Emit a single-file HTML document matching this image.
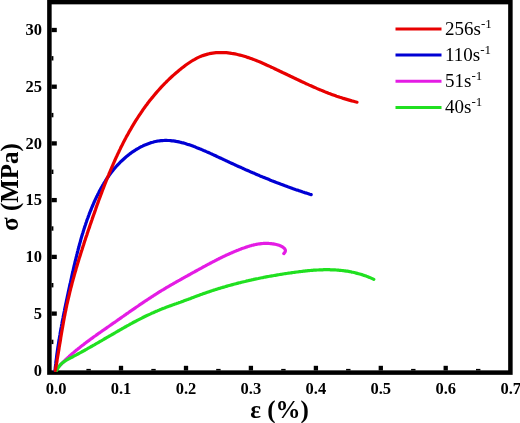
<!DOCTYPE html>
<html><head><meta charset="utf-8"><style>
html,body{margin:0;padding:0;background:#fff;}
body{width:520px;height:423px;overflow:hidden;}
svg{display:block;}
.tk text{font-family:"Liberation Serif",serif;font-weight:bold;font-size:16.5px;fill:#000;}
.lg text{font-family:"Liberation Serif",serif;font-size:19px;fill:#000;}
.ax{font-family:"Liberation Serif",serif;font-weight:bold;font-size:25px;fill:#000;}
.ticks line{stroke:#000;stroke-width:4.3;}
.ticks line.mn{stroke-width:4.4;}
.c{fill:none;stroke-width:3.2;stroke-linecap:round;stroke-linejoin:round;}
</style></head><body>
<svg width="520" height="423" viewBox="0 0 520 423">
<rect x="0" y="0" width="520" height="423" fill="#fff"/>
<g class="ticks"><line x1="56.1" y1="370.5" x2="56.1" y2="365.8"/><line x1="121.0" y1="370.5" x2="121.0" y2="365.8"/><line x1="186.0" y1="370.5" x2="186.0" y2="365.8"/><line x1="250.9" y1="370.5" x2="250.9" y2="365.8"/><line x1="315.9" y1="370.5" x2="315.9" y2="365.8"/><line x1="380.8" y1="370.5" x2="380.8" y2="365.8"/><line x1="445.7" y1="370.5" x2="445.7" y2="365.8"/><line class="mn" x1="88.6" y1="370.5" x2="88.6" y2="368.9"/><line class="mn" x1="153.5" y1="370.5" x2="153.5" y2="368.9"/><line class="mn" x1="218.4" y1="370.5" x2="218.4" y2="368.9"/><line class="mn" x1="283.4" y1="370.5" x2="283.4" y2="368.9"/><line class="mn" x1="348.3" y1="370.5" x2="348.3" y2="368.9"/><line class="mn" x1="413.3" y1="370.5" x2="413.3" y2="368.9"/><line class="mn" x1="478.2" y1="370.5" x2="478.2" y2="368.9"/><line x1="51.5" y1="313.6" x2="56.8" y2="313.6"/><line x1="51.5" y1="256.9" x2="56.8" y2="256.9"/><line x1="51.5" y1="200.1" x2="56.8" y2="200.1"/><line x1="51.5" y1="143.4" x2="56.8" y2="143.4"/><line x1="51.5" y1="86.7" x2="56.8" y2="86.7"/><line x1="51.5" y1="30.0" x2="56.8" y2="30.0"/><line class="mn" x1="51.5" y1="341.9" x2="53.4" y2="341.9"/><line class="mn" x1="51.5" y1="285.2" x2="53.4" y2="285.2"/><line class="mn" x1="51.5" y1="228.5" x2="53.4" y2="228.5"/><line class="mn" x1="51.5" y1="171.8" x2="53.4" y2="171.8"/><line class="mn" x1="51.5" y1="115.1" x2="53.4" y2="115.1"/><line class="mn" x1="51.5" y1="58.3" x2="53.4" y2="58.3"/><line class="mn" x1="51.5" y1="1.6" x2="53.4" y2="1.6"/></g>
<rect x="49.4" y="2.1" width="461" height="370.5" fill="none" stroke="#000" stroke-width="4.5"/>
<path class="c" stroke="#0000d4" d="M55.0 370.5 L55.2 369.1 L55.3 367.7 L55.5 366.3 L55.6 364.9 L55.8 363.4 L55.9 362.0 L56.1 360.6 L56.3 359.2 L56.5 357.8 L56.6 356.4 L56.8 355.0 L57.0 353.6 L57.2 352.1 L57.4 350.7 L57.6 349.3 L57.8 347.9 L58.0 346.5 L58.3 345.1 L58.5 343.6 L58.7 342.2 L58.9 340.8 L59.2 339.4 L59.4 338.0 L59.6 336.5 L59.9 335.1 L60.1 333.7 L60.3 332.3 L60.6 330.9 L60.8 329.4 L61.1 328.0 L61.4 326.6 L61.6 325.2 L61.9 323.8 L62.1 322.3 L62.4 320.9 L62.7 319.5 L63.0 318.1 L63.2 316.7 L63.5 315.2 L63.8 313.8 L64.1 312.4 L64.4 311.0 L64.6 309.6 L64.9 308.2 L65.2 306.7 L65.5 305.3 L65.8 303.9 L66.1 302.5 L66.4 301.1 L66.7 299.7 L67.0 298.2 L67.3 296.8 L67.6 295.4 L67.9 294.0 L68.2 292.6 L68.5 291.2 L68.8 289.8 L69.1 288.4 L69.4 287.0 L69.7 285.5 L70.0 284.1 L70.4 282.7 L70.7 281.3 L71.0 279.9 L71.3 278.5 L71.6 277.1 L71.9 275.7 L72.2 274.3 L72.5 272.9 L72.9 271.5 L73.2 270.1 L73.5 268.7 L73.8 267.3 L74.1 265.9 L74.5 264.5 L74.8 263.1 L75.1 261.7 L75.5 260.3 L75.8 259.0 L76.1 257.6 L76.5 256.2 L76.8 254.8 L77.2 253.4 L77.5 252.0 L77.9 250.6 L78.2 249.3 L78.6 247.9 L79.0 246.5 L79.3 245.1 L79.7 243.7 L80.1 242.4 L80.5 241.0 L80.8 239.6 L81.2 238.3 L81.6 236.9 L82.0 235.5 L82.4 234.2 L82.9 232.8 L83.3 231.4 L83.7 230.1 L84.1 228.7 L84.6 227.4 L85.0 226.0 L85.5 224.7 L85.9 223.3 L86.4 222.0 L86.8 220.6 L87.3 219.3 L87.8 218.0 L88.3 216.6 L88.8 215.3 L89.3 213.9 L89.8 212.6 L90.3 211.3 L90.9 210.0 L91.4 208.6 L91.9 207.3 L92.5 206.0 L93.1 204.7 L93.6 203.3 L94.2 202.0 L94.8 200.7 L95.4 199.4 L96.0 198.1 L96.6 196.8 L97.3 195.5 L97.9 194.2 L98.6 192.9 L99.2 191.6 L99.9 190.4 L100.6 189.1 L101.3 187.8 L102.0 186.6 L102.7 185.3 L103.5 184.1 L104.2 182.8 L105.0 181.6 L105.7 180.4 L106.5 179.2 L107.3 178.0 L108.2 176.8 L109.0 175.6 L109.8 174.4 L110.7 173.3 L111.6 172.1 L112.5 171.0 L113.4 169.8 L114.3 168.7 L115.3 167.6 L116.2 166.5 L117.2 165.4 L118.2 164.3 L119.2 163.3 L120.3 162.2 L121.3 161.2 L122.4 160.2 L123.5 159.2 L124.6 158.2 L125.7 157.2 L126.8 156.3 L127.9 155.4 L129.1 154.5 L130.2 153.6 L131.4 152.7 L132.6 151.9 L133.8 151.1 L135.0 150.3 L136.2 149.5 L137.4 148.8 L138.7 148.1 L139.9 147.4 L141.2 146.7 L142.5 146.1 L143.7 145.5 L145.0 144.9 L146.3 144.4 L147.6 143.9 L148.9 143.4 L150.3 142.9 L151.6 142.5 L152.9 142.2 L154.2 141.8 L155.6 141.5 L156.9 141.2 L158.3 141.0 L159.6 140.8 L161.0 140.7 L162.4 140.6 L163.7 140.5 L165.1 140.4 L166.5 140.4 L167.8 140.5 L169.2 140.5 L170.6 140.6 L172.0 140.8 L173.4 140.9 L174.8 141.1 L176.2 141.4 L177.5 141.6 L178.9 141.9 L180.3 142.2 L181.7 142.6 L183.1 142.9 L184.5 143.3 L185.9 143.7 L187.2 144.2 L188.6 144.6 L190.0 145.1 L191.4 145.6 L192.8 146.1 L194.1 146.6 L195.5 147.1 L196.9 147.7 L198.2 148.2 L199.6 148.8 L200.9 149.3 L202.3 149.9 L203.6 150.5 L205.0 151.0 L206.3 151.6 L207.7 152.2 L209.0 152.8 L210.3 153.4 L211.7 154.0 L213.0 154.6 L214.3 155.2 L215.6 155.8 L217.0 156.5 L218.3 157.1 L219.6 157.7 L220.9 158.3 L222.2 158.9 L223.5 159.5 L224.9 160.1 L226.2 160.8 L227.5 161.4 L228.8 162.0 L230.1 162.6 L231.4 163.2 L232.7 163.8 L234.0 164.4 L235.3 165.0 L236.6 165.6 L237.9 166.2 L239.2 166.8 L240.5 167.3 L241.8 167.9 L243.1 168.5 L244.4 169.1 L245.7 169.7 L247.0 170.2 L248.3 170.8 L249.6 171.4 L250.9 172.0 L252.2 172.5 L253.5 173.1 L254.8 173.6 L256.1 174.2 L257.4 174.8 L258.7 175.3 L260.0 175.9 L261.3 176.4 L262.7 177.0 L264.0 177.5 L265.3 178.0 L266.6 178.6 L267.9 179.1 L269.2 179.6 L270.5 180.2 L271.8 180.7 L273.2 181.2 L274.5 181.7 L275.8 182.3 L277.1 182.8 L278.5 183.3 L279.8 183.8 L281.1 184.3 L282.5 184.8 L283.8 185.3 L285.1 185.8 L286.5 186.3 L287.8 186.8 L289.2 187.3 L290.5 187.7 L291.9 188.2 L293.2 188.7 L294.6 189.2 L296.0 189.7 L297.3 190.1 L298.7 190.6 L300.1 191.0 L301.5 191.5 L302.8 192.0 L304.2 192.4 L305.6 192.9 L307.0 193.3 L308.4 193.7 L309.8 194.2 L311.2 194.6"/>
<path class="c" stroke="#e41ce4" d="M56.5 369.2 L57.1 368.5 L57.7 367.8 L58.3 367.1 L58.9 366.5 L59.6 365.8 L60.2 365.1 L60.8 364.5 L61.5 363.8 L62.1 363.2 L62.8 362.5 L63.4 361.9 L64.1 361.2 L64.7 360.6 L65.4 360.0 L66.0 359.3 L66.7 358.7 L67.3 358.1 L68.0 357.5 L68.7 356.9 L69.4 356.2 L70.0 355.6 L70.7 355.0 L71.4 354.4 L72.1 353.8 L72.8 353.2 L73.5 352.7 L74.1 352.1 L74.8 351.5 L75.5 350.9 L76.2 350.3 L76.9 349.7 L77.6 349.2 L78.3 348.6 L79.1 348.0 L79.8 347.5 L80.5 346.9 L81.2 346.3 L81.9 345.8 L82.6 345.2 L83.3 344.7 L84.1 344.1 L84.8 343.5 L85.5 343.0 L86.2 342.4 L87.0 341.9 L87.7 341.4 L88.4 340.8 L89.2 340.3 L89.9 339.7 L90.6 339.2 L91.4 338.7 L92.1 338.1 L92.8 337.6 L93.6 337.0 L94.3 336.5 L95.1 336.0 L95.8 335.5 L96.6 334.9 L97.3 334.4 L98.1 333.9 L98.8 333.3 L99.5 332.8 L100.3 332.3 L101.0 331.8 L101.8 331.2 L102.5 330.7 L103.3 330.2 L104.0 329.7 L104.8 329.1 L105.6 328.6 L106.3 328.1 L107.1 327.6 L107.8 327.0 L108.6 326.5 L109.3 326.0 L110.1 325.5 L110.8 324.9 L111.6 324.4 L112.3 323.9 L113.1 323.4 L113.8 322.8 L114.6 322.3 L115.4 321.8 L116.1 321.3 L116.9 320.7 L117.6 320.2 L118.4 319.7 L119.1 319.1 L119.9 318.6 L120.6 318.1 L121.4 317.6 L122.1 317.0 L122.9 316.5 L123.7 316.0 L124.4 315.4 L125.2 314.9 L125.9 314.4 L126.7 313.8 L127.4 313.3 L128.2 312.8 L128.9 312.3 L129.7 311.7 L130.5 311.2 L131.2 310.7 L132.0 310.2 L132.7 309.6 L133.5 309.1 L134.2 308.6 L135.0 308.1 L135.8 307.5 L136.5 307.0 L137.3 306.5 L138.0 306.0 L138.8 305.5 L139.5 304.9 L140.3 304.4 L141.1 303.9 L141.8 303.4 L142.6 302.9 L143.3 302.4 L144.1 301.9 L144.9 301.3 L145.6 300.8 L146.4 300.3 L147.2 299.8 L147.9 299.3 L148.7 298.8 L149.4 298.3 L150.2 297.8 L151.0 297.3 L151.7 296.8 L152.5 296.3 L153.3 295.8 L154.0 295.3 L154.8 294.8 L155.6 294.3 L156.3 293.9 L157.1 293.4 L157.9 292.9 L158.6 292.4 L159.4 291.9 L160.2 291.4 L161.0 291.0 L161.7 290.5 L162.5 290.0 L163.3 289.6 L164.1 289.1 L164.8 288.6 L165.6 288.2 L166.4 287.7 L167.2 287.2 L167.9 286.8 L168.7 286.3 L169.5 285.9 L170.3 285.4 L171.0 285.0 L171.8 284.5 L172.6 284.1 L173.4 283.6 L174.2 283.2 L175.0 282.7 L175.7 282.3 L176.5 281.8 L177.3 281.4 L178.1 281.0 L178.9 280.5 L179.7 280.1 L180.5 279.6 L181.3 279.2 L182.0 278.7 L182.8 278.3 L183.6 277.9 L184.4 277.4 L185.2 277.0 L186.0 276.5 L186.8 276.1 L187.6 275.7 L188.4 275.2 L189.2 274.8 L190.0 274.3 L190.8 273.9 L191.6 273.4 L192.4 273.0 L193.2 272.5 L194.0 272.1 L194.8 271.7 L195.6 271.2 L196.4 270.8 L197.2 270.3 L198.1 269.9 L198.9 269.4 L199.7 269.0 L200.5 268.5 L201.3 268.1 L202.1 267.6 L202.9 267.2 L203.7 266.7 L204.6 266.3 L205.4 265.9 L206.2 265.4 L207.0 265.0 L207.8 264.5 L208.6 264.1 L209.5 263.7 L210.3 263.2 L211.1 262.8 L211.9 262.4 L212.8 261.9 L213.6 261.5 L214.4 261.1 L215.2 260.6 L216.1 260.2 L216.9 259.8 L217.7 259.4 L218.5 259.0 L219.4 258.5 L220.2 258.1 L221.0 257.7 L221.9 257.3 L222.7 256.9 L223.5 256.5 L224.3 256.1 L225.2 255.7 L226.0 255.3 L226.8 254.9 L227.7 254.6 L228.5 254.2 L229.4 253.8 L230.2 253.4 L231.0 253.1 L231.9 252.7 L232.7 252.3 L233.5 252.0 L234.4 251.6 L235.2 251.3 L236.1 250.9 L236.9 250.6 L237.7 250.2 L238.6 249.9 L239.4 249.6 L240.3 249.3 L241.1 248.9 L241.9 248.6 L242.8 248.3 L243.6 248.0 L244.5 247.7 L245.3 247.4 L246.2 247.1 L247.0 246.9 L247.9 246.6 L248.7 246.3 L249.6 246.1 L250.4 245.8 L251.3 245.6 L252.1 245.3 L253.0 245.1 L253.8 244.9 L254.7 244.7 L255.6 244.5 L256.5 244.3 L257.3 244.2 L258.2 244.0 L259.1 243.9 L260.0 243.8 L260.9 243.7 L261.8 243.6 L262.7 243.5 L263.6 243.4 L264.6 243.4 L265.5 243.4 L266.5 243.4 L267.4 243.4 L268.4 243.4 L269.3 243.5 L270.3 243.6 L271.3 243.7 L272.3 243.8 L273.3 243.9 L274.3 244.1 L275.3 244.3 L276.2 244.5 L277.2 244.7 L278.1 245.0 L279.0 245.3 L279.9 245.6 L280.7 246.0 L281.5 246.4 L282.3 246.8 L282.9 247.2 L283.6 247.7 L284.2 248.2 L284.7 248.8 L285.0 249.4 L285.3 250.0 L285.4 250.6 L285.3 251.3 L285.0 252.0 L284.5 252.8 L283.8 253.6"/>
<path class="c" stroke="#20e020" d="M56.8 370.3 L57.3 369.2 L57.9 368.2 L58.5 367.2 L59.2 366.3 L59.9 365.4 L60.6 364.6 L61.4 363.8 L62.3 363.1 L63.1 362.4 L64.0 361.7 L65.0 361.1 L65.9 360.5 L66.9 359.9 L67.8 359.4 L68.8 358.8 L69.8 358.3 L70.8 357.7 L71.9 357.2 L72.9 356.7 L73.9 356.1 L74.9 355.6 L75.9 355.1 L76.9 354.5 L77.9 354.0 L78.9 353.5 L79.9 352.9 L80.9 352.4 L81.9 351.8 L82.9 351.3 L83.9 350.7 L84.9 350.2 L85.8 349.6 L86.8 349.1 L87.8 348.5 L88.8 347.9 L89.8 347.4 L90.8 346.8 L91.8 346.3 L92.8 345.7 L93.8 345.1 L94.8 344.6 L95.7 344.0 L96.7 343.4 L97.7 342.9 L98.7 342.3 L99.7 341.7 L100.7 341.1 L101.7 340.6 L102.7 340.0 L103.7 339.4 L104.6 338.8 L105.6 338.3 L106.6 337.7 L107.6 337.1 L108.6 336.5 L109.6 336.0 L110.6 335.4 L111.6 334.8 L112.6 334.2 L113.6 333.7 L114.6 333.1 L115.6 332.5 L116.6 331.9 L117.6 331.3 L118.6 330.8 L119.6 330.2 L120.6 329.6 L121.6 329.0 L122.6 328.5 L123.6 327.9 L124.6 327.3 L125.6 326.8 L126.6 326.2 L127.6 325.6 L128.6 325.1 L129.6 324.5 L130.7 323.9 L131.7 323.4 L132.7 322.8 L133.7 322.3 L134.7 321.8 L135.7 321.2 L136.7 320.7 L137.8 320.1 L138.8 319.6 L139.8 319.1 L140.8 318.6 L141.8 318.1 L142.9 317.5 L143.9 317.0 L144.9 316.5 L145.9 316.0 L147.0 315.5 L148.0 315.1 L149.0 314.6 L150.1 314.1 L151.1 313.6 L152.1 313.1 L153.2 312.7 L154.2 312.2 L155.2 311.8 L156.3 311.3 L157.3 310.9 L158.3 310.4 L159.4 310.0 L160.4 309.6 L161.5 309.1 L162.5 308.7 L163.5 308.3 L164.6 307.9 L165.6 307.5 L166.7 307.1 L167.7 306.7 L168.8 306.3 L169.8 305.9 L170.9 305.6 L171.9 305.2 L173.0 304.8 L174.0 304.4 L175.1 304.0 L176.2 303.7 L177.2 303.3 L178.3 302.9 L179.3 302.5 L180.4 302.2 L181.5 301.8 L182.5 301.4 L183.6 301.0 L184.6 300.6 L185.7 300.2 L186.8 299.8 L187.9 299.5 L188.9 299.1 L190.0 298.7 L191.1 298.2 L192.1 297.8 L193.2 297.4 L194.3 297.0 L195.4 296.6 L196.4 296.2 L197.5 295.8 L198.6 295.4 L199.7 295.0 L200.8 294.6 L201.9 294.2 L202.9 293.8 L204.0 293.4 L205.1 293.1 L206.2 292.7 L207.3 292.3 L208.4 291.9 L209.5 291.6 L210.6 291.2 L211.7 290.8 L212.8 290.5 L213.8 290.1 L214.9 289.8 L216.0 289.4 L217.1 289.1 L218.2 288.7 L219.3 288.4 L220.4 288.1 L221.5 287.7 L222.7 287.4 L223.8 287.1 L224.9 286.8 L226.0 286.4 L227.1 286.1 L228.2 285.8 L229.3 285.5 L230.4 285.2 L231.5 284.9 L232.6 284.6 L233.7 284.3 L234.8 284.0 L236.0 283.7 L237.1 283.4 L238.2 283.1 L239.3 282.8 L240.4 282.6 L241.5 282.3 L242.6 282.0 L243.8 281.7 L244.9 281.5 L246.0 281.2 L247.1 280.9 L248.2 280.7 L249.4 280.4 L250.5 280.2 L251.6 279.9 L252.7 279.7 L253.8 279.4 L255.0 279.2 L256.1 278.9 L257.2 278.7 L258.3 278.5 L259.5 278.2 L260.6 278.0 L261.7 277.8 L262.8 277.6 L264.0 277.3 L265.1 277.1 L266.2 276.9 L267.4 276.7 L268.5 276.5 L269.6 276.3 L270.7 276.1 L271.9 275.9 L273.0 275.7 L274.1 275.5 L275.3 275.3 L276.4 275.1 L277.5 274.9 L278.6 274.7 L279.8 274.5 L280.9 274.3 L282.0 274.2 L283.2 274.0 L284.3 273.8 L285.4 273.6 L286.6 273.5 L287.7 273.3 L288.8 273.1 L289.9 273.0 L291.1 272.8 L292.2 272.6 L293.3 272.5 L294.5 272.3 L295.6 272.2 L296.7 272.0 L297.9 271.9 L299.0 271.7 L300.1 271.6 L301.3 271.5 L302.4 271.3 L303.5 271.2 L304.6 271.1 L305.8 270.9 L306.9 270.8 L308.0 270.7 L309.2 270.6 L310.3 270.5 L311.4 270.4 L312.6 270.3 L313.7 270.2 L314.8 270.2 L315.9 270.1 L317.1 270.0 L318.2 270.0 L319.3 269.9 L320.4 269.8 L321.6 269.8 L322.7 269.8 L323.8 269.7 L325.0 269.7 L326.1 269.7 L327.2 269.7 L328.3 269.7 L329.4 269.7 L330.6 269.8 L331.7 269.8 L332.8 269.8 L333.9 269.9 L335.1 269.9 L336.2 270.0 L337.3 270.1 L338.4 270.2 L339.5 270.3 L340.7 270.4 L341.8 270.5 L342.9 270.6 L344.0 270.8 L345.1 270.9 L346.2 271.1 L347.3 271.2 L348.5 271.4 L349.6 271.6 L350.7 271.8 L351.8 272.1 L352.9 272.3 L354.0 272.5 L355.1 272.8 L356.2 273.1 L357.3 273.4 L358.5 273.7 L359.6 274.0 L360.7 274.3 L361.8 274.6 L362.9 275.0 L364.0 275.4 L365.1 275.7 L366.2 276.1 L367.3 276.6 L368.4 277.0 L369.5 277.4 L370.6 277.9 L371.7 278.4 L372.8 278.9 L373.8 279.4"/>
<path class="c" stroke="#e80000" d="M55.3 370.5 L55.6 368.8 L55.9 367.0 L56.2 365.2 L56.6 363.5 L56.9 361.7 L57.1 360.0 L57.4 358.2 L57.7 356.5 L58.0 354.7 L58.3 353.0 L58.6 351.3 L58.9 349.5 L59.1 347.8 L59.4 346.1 L59.7 344.3 L60.0 342.6 L60.3 340.9 L60.6 339.1 L60.8 337.4 L61.1 335.7 L61.4 334.0 L61.7 332.3 L62.0 330.5 L62.3 328.8 L62.6 327.1 L62.9 325.4 L63.2 323.7 L63.5 322.0 L63.8 320.3 L64.1 318.6 L64.4 316.9 L64.8 315.2 L65.1 313.5 L65.4 311.8 L65.8 310.1 L66.1 308.4 L66.5 306.7 L66.8 305.0 L67.2 303.3 L67.6 301.6 L68.0 299.9 L68.4 298.2 L68.8 296.6 L69.2 294.9 L69.6 293.2 L70.0 291.5 L70.4 289.8 L70.8 288.1 L71.3 286.5 L71.7 284.8 L72.1 283.1 L72.6 281.4 L73.0 279.8 L73.5 278.1 L74.0 276.4 L74.4 274.7 L74.9 273.1 L75.4 271.4 L75.9 269.7 L76.3 268.0 L76.8 266.4 L77.3 264.7 L77.8 263.0 L78.3 261.4 L78.8 259.7 L79.3 258.0 L79.9 256.4 L80.4 254.7 L80.9 253.0 L81.4 251.4 L82.0 249.7 L82.5 248.0 L83.0 246.4 L83.6 244.7 L84.1 243.0 L84.6 241.4 L85.2 239.7 L85.7 238.0 L86.3 236.4 L86.9 234.7 L87.4 233.0 L88.0 231.4 L88.5 229.7 L89.1 228.1 L89.7 226.4 L90.2 224.7 L90.8 223.1 L91.4 221.4 L92.0 219.7 L92.5 218.1 L93.1 216.4 L93.7 214.7 L94.3 213.1 L94.9 211.4 L95.5 209.7 L96.0 208.1 L96.6 206.4 L97.2 204.7 L97.8 203.1 L98.4 201.4 L99.0 199.8 L99.6 198.1 L100.3 196.4 L100.9 194.8 L101.5 193.1 L102.1 191.5 L102.7 189.8 L103.4 188.2 L104.0 186.5 L104.6 184.9 L105.3 183.2 L105.9 181.6 L106.6 179.9 L107.2 178.3 L107.9 176.7 L108.6 175.0 L109.2 173.4 L109.9 171.8 L110.6 170.2 L111.3 168.5 L112.0 166.9 L112.7 165.3 L113.4 163.7 L114.1 162.1 L114.8 160.5 L115.5 158.9 L116.2 157.3 L117.0 155.7 L117.7 154.1 L118.5 152.5 L119.2 151.0 L120.0 149.4 L120.7 147.8 L121.5 146.2 L122.3 144.7 L123.1 143.1 L123.9 141.6 L124.7 140.0 L125.5 138.5 L126.3 136.9 L127.2 135.4 L128.0 133.9 L128.8 132.4 L129.7 130.9 L130.6 129.4 L131.4 127.9 L132.3 126.4 L133.2 124.9 L134.1 123.4 L135.0 121.9 L135.9 120.4 L136.9 119.0 L137.8 117.5 L138.7 116.1 L139.7 114.6 L140.7 113.2 L141.6 111.8 L142.6 110.3 L143.6 108.9 L144.6 107.5 L145.6 106.1 L146.7 104.7 L147.7 103.3 L148.7 102.0 L149.8 100.6 L150.9 99.2 L152.0 97.9 L153.1 96.6 L154.2 95.2 L155.3 93.9 L156.4 92.6 L157.5 91.3 L158.7 90.0 L159.9 88.7 L161.0 87.4 L162.2 86.1 L163.4 84.9 L164.6 83.6 L165.9 82.4 L167.1 81.1 L168.4 79.9 L169.6 78.7 L170.9 77.5 L172.2 76.3 L173.5 75.1 L174.8 74.0 L176.2 72.8 L177.5 71.7 L178.9 70.5 L180.2 69.4 L181.6 68.3 L183.0 67.2 L184.5 66.1 L185.9 65.0 L187.3 64.0 L188.8 63.0 L190.3 62.0 L191.8 61.0 L193.3 60.1 L194.8 59.3 L196.4 58.4 L197.9 57.6 L199.5 56.9 L201.1 56.2 L202.7 55.6 L204.3 55.1 L206.0 54.6 L207.6 54.1 L209.3 53.7 L211.0 53.4 L212.7 53.1 L214.4 52.9 L216.1 52.7 L217.8 52.6 L219.5 52.6 L221.2 52.5 L222.9 52.6 L224.7 52.6 L226.4 52.7 L228.1 52.9 L229.8 53.1 L231.5 53.4 L233.2 53.6 L234.9 53.9 L236.6 54.3 L238.3 54.7 L240.0 55.1 L241.7 55.5 L243.4 56.0 L245.1 56.5 L246.8 57.1 L248.4 57.6 L250.1 58.2 L251.8 58.8 L253.5 59.4 L255.1 60.1 L256.8 60.7 L258.4 61.4 L260.1 62.1 L261.7 62.8 L263.3 63.5 L265.0 64.2 L266.6 65.0 L268.2 65.7 L269.8 66.4 L271.5 67.2 L273.1 67.9 L274.7 68.7 L276.3 69.5 L277.9 70.2 L279.5 71.0 L281.0 71.7 L282.6 72.5 L284.2 73.2 L285.8 74.0 L287.4 74.8 L288.9 75.5 L290.5 76.3 L292.1 77.0 L293.7 77.8 L295.2 78.5 L296.8 79.3 L298.4 80.0 L299.9 80.7 L301.5 81.5 L303.1 82.2 L304.6 82.9 L306.2 83.7 L307.8 84.4 L309.3 85.1 L310.9 85.8 L312.5 86.5 L314.1 87.2 L315.7 87.9 L317.2 88.6 L318.8 89.3 L320.4 89.9 L322.0 90.6 L323.6 91.2 L325.2 91.9 L326.8 92.5 L328.5 93.2 L330.1 93.8 L331.7 94.4 L333.3 95.0 L335.0 95.6 L336.6 96.2 L338.3 96.7 L339.9 97.3 L341.6 97.8 L343.3 98.4 L345.0 98.9 L346.7 99.4 L348.4 99.9 L350.1 100.4 L351.8 100.9 L353.5 101.3 L355.3 101.8 L357.0 102.2"/>
<g class="tk"><text x="42" y="375.6" text-anchor="end">0</text><text x="42" y="318.9" text-anchor="end">5</text><text x="42" y="262.2" text-anchor="end">10</text><text x="42" y="205.4" text-anchor="end">15</text><text x="42" y="148.7" text-anchor="end">20</text><text x="42" y="92.0" text-anchor="end">25</text><text x="42" y="35.3" text-anchor="end">30</text><text x="56.1" y="393.5" text-anchor="middle">0.0</text><text x="121.0" y="393.5" text-anchor="middle">0.1</text><text x="186.0" y="393.5" text-anchor="middle">0.2</text><text x="250.9" y="393.5" text-anchor="middle">0.3</text><text x="315.9" y="393.5" text-anchor="middle">0.4</text><text x="380.8" y="393.5" text-anchor="middle">0.5</text><text x="445.7" y="393.5" text-anchor="middle">0.6</text><text x="510.7" y="393.5" text-anchor="middle">0.7</text></g>
<g class="lg">
<line x1="395.5" y1="29" x2="441.5" y2="29" stroke="#e80000" stroke-width="3"/>
<line x1="395.5" y1="55" x2="441.5" y2="55" stroke="#0000d4" stroke-width="3"/>
<line x1="395.5" y1="81.2" x2="441.5" y2="81.2" stroke="#e41ce4" stroke-width="3"/>
<line x1="395.5" y1="107.4" x2="441.5" y2="107.4" stroke="#20e020" stroke-width="3"/>
<text x="445" y="34.9">256s<tspan dy="-7" font-size="13">-1</tspan></text>
<text x="445" y="61.0">110s<tspan dy="-7" font-size="13">-1</tspan></text>
<text x="445" y="87.3">51s<tspan dy="-7" font-size="13">-1</tspan></text>
<text x="445" y="113.4">40s<tspan dy="-7" font-size="13">-1</tspan></text>
</g>
<text class="ax" x="279.5" y="418" text-anchor="middle">ε (%)</text>
<text class="ax" transform="translate(18,187) rotate(-90)" text-anchor="middle">σ (MPa)</text>
</svg>
</body></html>
